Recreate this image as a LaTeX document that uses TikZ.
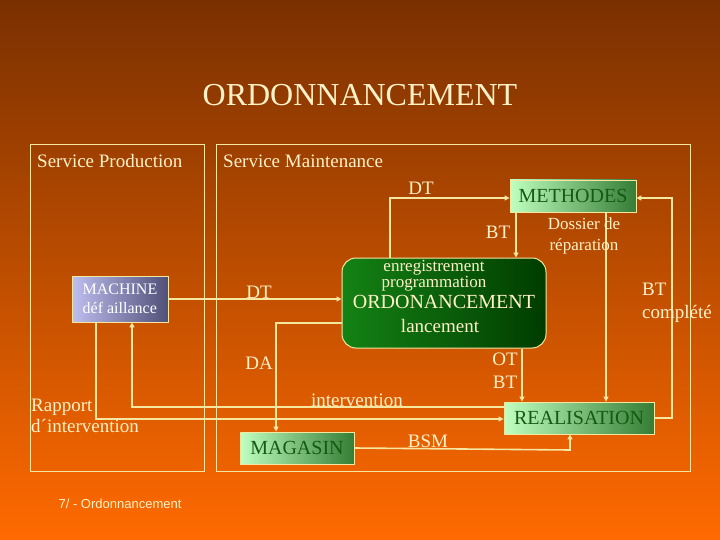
\documentclass[tikz,border=0pt]{standalone}
\usepackage{fontspec}
\setmainfont{Liberation Serif}
\newfontfamily\footfont{Liberation Sans}
\usetikzlibrary{arrows.meta}
\definecolor{ln}{HTML}{F5E6A0}
\definecolor{txt}{HTML}{FFF2C8}
\definecolor{gtxt}{HTML}{145A14}
\tikzset{
 lbl/.style={text=txt,font=\fontsize{19}{21}\selectfont,inner sep=0},
 conn/.style={draw=ln,line width=1.6pt,-{Triangle[length=5pt,width=5pt]}},
 frame/.style={draw=ln,line width=0.7pt},
 gbox/.style={draw=ln,line width=0.8pt,left color=green!25!white,right color=gray!60!green!70!black,minimum height=32pt,text=gtxt,font=\fontsize{20}{22}\selectfont,inner sep=0},
}
\begin{document}
\begin{tikzpicture}[x=1pt,y=-1pt]
\shade[top color={rgb,255:red,122;green,48;blue,0},bottom color={rgb,255:red,255;green,106;blue,0}] (0,0) rectangle (720,540);
\useasboundingbox (0,0) rectangle (720,540);
\node[text=txt,font=\fontsize{32}{34}\selectfont] (title) at (360,95) {ORDONNANCEMENT};
\draw[frame] (30,144) rectangle (204,471);
\draw[frame] (216,144) rectangle (690,471);
\node[lbl,anchor=west] (sp) at (37,161) {Service Production};
\node[lbl,anchor=west] (sm) at (223,161) {Service Maintenance};
\node[draw=ln,line width=0.8pt,left color={rgb,255:red,190;green,190;blue,240},right color={rgb,255:red,80;green,80;blue,120},minimum width=96pt,minimum height=46pt,text=white,font=\fontsize{16}{19}\selectfont,align=left,inner sep=0] (mach) at (120,299) {MACHINE\\déf aillance};
\node[gbox,minimum width=126pt] (meth) at (573,196) {METHODES};
\node[gbox,minimum width=150pt] (real) at (579,418) {REALISATION};
\node[gbox,minimum width=114pt] (mag) at (297,448) {MAGASIN};
\node[draw=ln,line width=1pt,rounded corners=14pt,left color={rgb,255:red,20;green,130;blue,20},right color={rgb,255:red,0;green,60;blue,0},minimum width=204pt,minimum height=90pt] (ord) at (444,303) {};
\node[lbl,text=txt,align=center,font=\fontsize{17}{16}\selectfont] (o1) at (434,276) {enregistrement\\programmation};
\node[lbl,font=\fontsize{20}{22}\selectfont] (o2) at (444,302) {ORDONANCEMENT};
\node[lbl] (o3) at (440,326) {lancement};
% connectors
\draw[conn] (mach.east) -- (ord.west |- mach.east);
\draw[conn] (ord.north -| 390,0) -- (390,198) -- (meth.west |- 0,198);
\draw[conn] (meth.south -| 516,0) -- (ord.north -| 516,0);
\draw[conn] (meth.south -| 606,0) -- (real.north -| 606,0);
\draw[conn] (real.east) -- (672,418) -- (672,198) -- (meth.east |- 0,198);
\draw[conn] (ord.south -| 522,0) -- (real.north -| 522,0);
\draw[conn] (ord.west |- 0,323) -- (276,323) -- (mag.north -| 276,0);
\draw[conn] (real.west |- 0,407) -- (132,407) -- (mach.south -| 132,0);
\draw[conn] (mach.south -| 96,0) -- (96,419) -- (real.west |- 0,419);
\draw[conn] (mag.east) -- (570,450) -- (real.south -| 570,0);
% labels
\node[lbl] (l1) at (421,188) {DT};
\node[lbl] (l2) at (498,232) {BT};
\node[lbl,align=center,font=\fontsize{17}{21}\selectfont] (l3) at (584,236) {Dossier de\\réparation};
\node[lbl,align=left,anchor=west] (l4) at (642,303) {BT\\[2pt]complété};
\node[lbl] (l5) at (259,292) {DT};
\node[lbl] (l6) at (259,363) {DA};
\node[lbl,align=center] (l7) at (505,371) {OT\\[2pt]BT};
\node[lbl] (l8) at (357,400) {intervention};
\node[lbl] (l9) at (428,441) {BSM};
\node[lbl,align=left,anchor=west] (l10) at (31,416) {Rapport\\[0pt]d´intervention};
\node[text=txt,font=\footfont\fontsize{13}{15}\selectfont] (foot) at (120,504) {7/ - Ordonnancement};
\end{tikzpicture}
\end{document}
